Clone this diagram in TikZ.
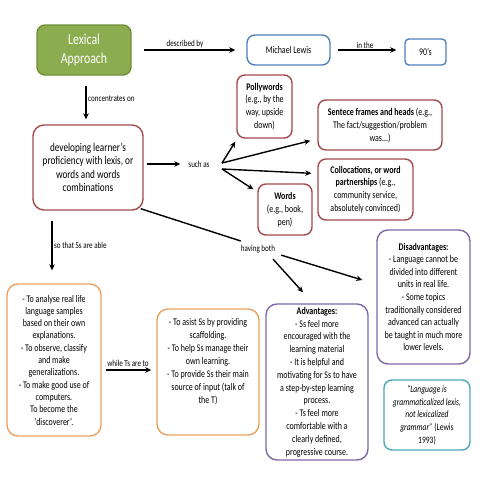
\documentclass[tikz,border=0pt]{standalone}
\usepackage{fontspec}
\setmainfont{Carlito}[FakeStretch=0.78]
\usetikzlibrary{arrows.meta}
\definecolor{lexfill}{HTML}{8CAD4F}
\definecolor{lexdraw}{HTML}{6E8F3A}
\definecolor{bluedraw}{HTML}{4F81BD}
\definecolor{reddraw}{HTML}{A4494C}
\definecolor{orangedraw}{HTML}{E8A262}
\definecolor{purpledraw}{HTML}{7C68A6}
\definecolor{tealdraw}{HTML}{4AA8B8}
\begin{document}
\begin{tikzpicture}[x=1pt,y=-1pt,
  box/.style={draw, rounded corners=8pt, line width=1.4pt, align=center, inner sep=2pt,
    font=\fontsize{10.2}{12.6}\selectfont, text=black},
  lbl/.style={inner sep=1pt, font=\fontsize{9.1}{10}\selectfont, text=black},
  arr/.style={-{Stealth[length=6pt,width=5.5pt]}, line width=1.4pt, black},
  ln/.style={line width=1.4pt, black}]
\useasboundingbox (0,0) rectangle (480,480);
\fill[white] (0,0) rectangle (480,480);

% boxes
\node[box, fill=lexfill, draw=lexdraw, text=white, minimum width=94pt, minimum height=50pt,
  font=\fontsize{15.2}{19}\selectfont] (lex) at (84,50) {Lexical\\Approach};
\node[box, draw=bluedraw, minimum width=83pt, minimum height=30pt] (ml) at (288.5,50) {Michael Lewis};
\node[box, draw=bluedraw, minimum width=41pt, minimum height=26pt, rounded corners=4pt] (n90) at (425.5,52) {90’s};
\node[box, draw=reddraw, minimum width=110pt, minimum height=85pt, rounded corners=11pt,
  font=\fontsize{11.8}{13.5}\selectfont] (dev) at (88,167.5)
  {developing learner’s\\proficiency with lexis, or\\words and words\\combinations};
\node[box, draw=reddraw, minimum width=55pt, minimum height=63pt, font=\fontsize{10.2}{12.8}\selectfont] (poll) at (264.5,106.5)
  {\textbf{Pollywords}\\(e.g., by the\\way, upside\\down)};
\node[box, draw=reddraw, minimum width=124pt, minimum height=50pt, font=\fontsize{10.2}{13}\selectfont] (sent) at (380,125)
  {\textbf{Sentece frames and heads} (e.g.,\\The fact/suggestion/problem\\was...)};
\node[box, draw=reddraw, minimum width=95pt, minimum height=61pt, font=\fontsize{10.2}{12.7}\selectfont] (coll) at (365.5,189.5)
  {\textbf{Collocations, or word}\\\textbf{partnerships} (e.g.,\\community service,\\absolutely convinced)};
\node[box, draw=reddraw, minimum width=54pt, minimum height=51pt, font=\fontsize{10.2}{12.8}\selectfont] (words) at (285,209.5)
  {\textbf{Words}\\(e.g., book,\\pen)};
\node[box, draw=purpledraw, minimum width=93pt, minimum height=134pt, rounded corners=11pt] (dis) at (423.5,297)
  {\textbf{Disadvantages:}\\- Language cannot be\\divided into different\\units in real life.\\- Some topics\\traditionally considered\\advanced can actually\\be taught in much more\\lower levels.};
\node[box, draw=tealdraw, minimum width=86pt, minimum height=70pt, font=\fontsize{9.7}{12.6}\selectfont] (quote) at (427,415)
  {\textit{“Language is}\\\textit{grammaticalized lexis,}\\\textit{not lexicalized}\\\textit{grammar”} (Lewis\\1993)};
\node[box, draw=purpledraw, minimum width=102pt, minimum height=156pt, rounded corners=11pt, font=\fontsize{10.2}{12.8}\selectfont] (adv) at (317,382)
  {\textbf{Advantages:}\\- Ss feel more\\encouraged with the\\learning material\\- It is helpful and\\motivating for Ss to have\\a step-by-step learning\\process.\\- Ts feel more\\comfortable with a\\clearly defined,\\progressive course.};
\node[box, draw=orangedraw, minimum width=102pt, minimum height=126pt, rounded corners=11pt, font=\fontsize{10.2}{13}\selectfont] (mo) at (208,372)
  {- To asist Ss by providing\\scaffolding.\\- To help Ss manage their\\own learning.\\- To provide Ss their main\\source of input (talk of\\the T)\\[10pt]};
\node[box, draw=orangedraw, minimum width=94pt, minimum height=152pt, rounded corners=11pt, font=\fontsize{10.2}{12.3}\selectfont] (lo) at (54,360)
  {- To analyse real life\\language samples\\based on their own\\explanations.\\- To observe, classify\\and make\\generalizations.\\- To make good use of\\computers.\\To become the\\‘discoverer’.};

% labels
\node[lbl] (descr) at (185,44) {described by};
\node[lbl] (inthe) at (365,45) {in the};
\node[lbl, anchor=west] (conc) at (87,99) {concentrates on};
\node[lbl] (such) at (199,164) {such as};
\node[lbl, anchor=west] (sothat) at (53,245) {so that Ss are able};
\node[lbl] (hb) at (258,249) {having both};
\node[lbl] (while) at (128,363) {while Ts are to};

\coordinate (fanA) at (222,163);
\coordinate (fanB) at (222,169);

% connectors
\draw[arr, shorten <=12pt, shorten >=11pt] (lex.east) -- (ml.west);
\draw[arr, shorten <=7pt, shorten >=8pt] (ml.east) -- (ml.east -| n90.west);
\draw[arr, shorten <=10pt, shorten >=5pt] ([shift={(2,0)}]lex.south) -- ([shift={(-2,0)}]dev.north);
\draw[arr, shorten <=3pt, shorten >=7pt] (dev.east |- such.west) -- (such.west);
\draw[arr] (fanA) -- ([shift={(-1,3)}]poll.south west);
\draw[arr] (fanA) -- ([shift={(-7,-10)}]sent.south west);
\draw[arr] (fanB) -- ([shift={(-6,15)}]coll.north west);
\draw[arr] (fanB) -- ([shift={(-4,6)}]words.north west);
\draw[ln] ([shift={(-3,-2)}]dev.south east) -- ([shift={(1,-8)}]hb.west);
\draw[arr] ([shift={(15,5)}]hb.south) -- ([shift={(-14,-11)}]adv.north);
\draw[arr] ([shift={(5,1)}]hb.south east) -- ([shift={(-14,-17)}]dis.west);
\draw[arr] ([shift={(-36,10)}]dev.south) -- ([shift={(-2,-13)}]lo.north);
\draw[arr] ([shift={(4,10)}]lo.east) -- ([shift={(-5,-2)}]mo.west);
\end{tikzpicture}
\end{document}
